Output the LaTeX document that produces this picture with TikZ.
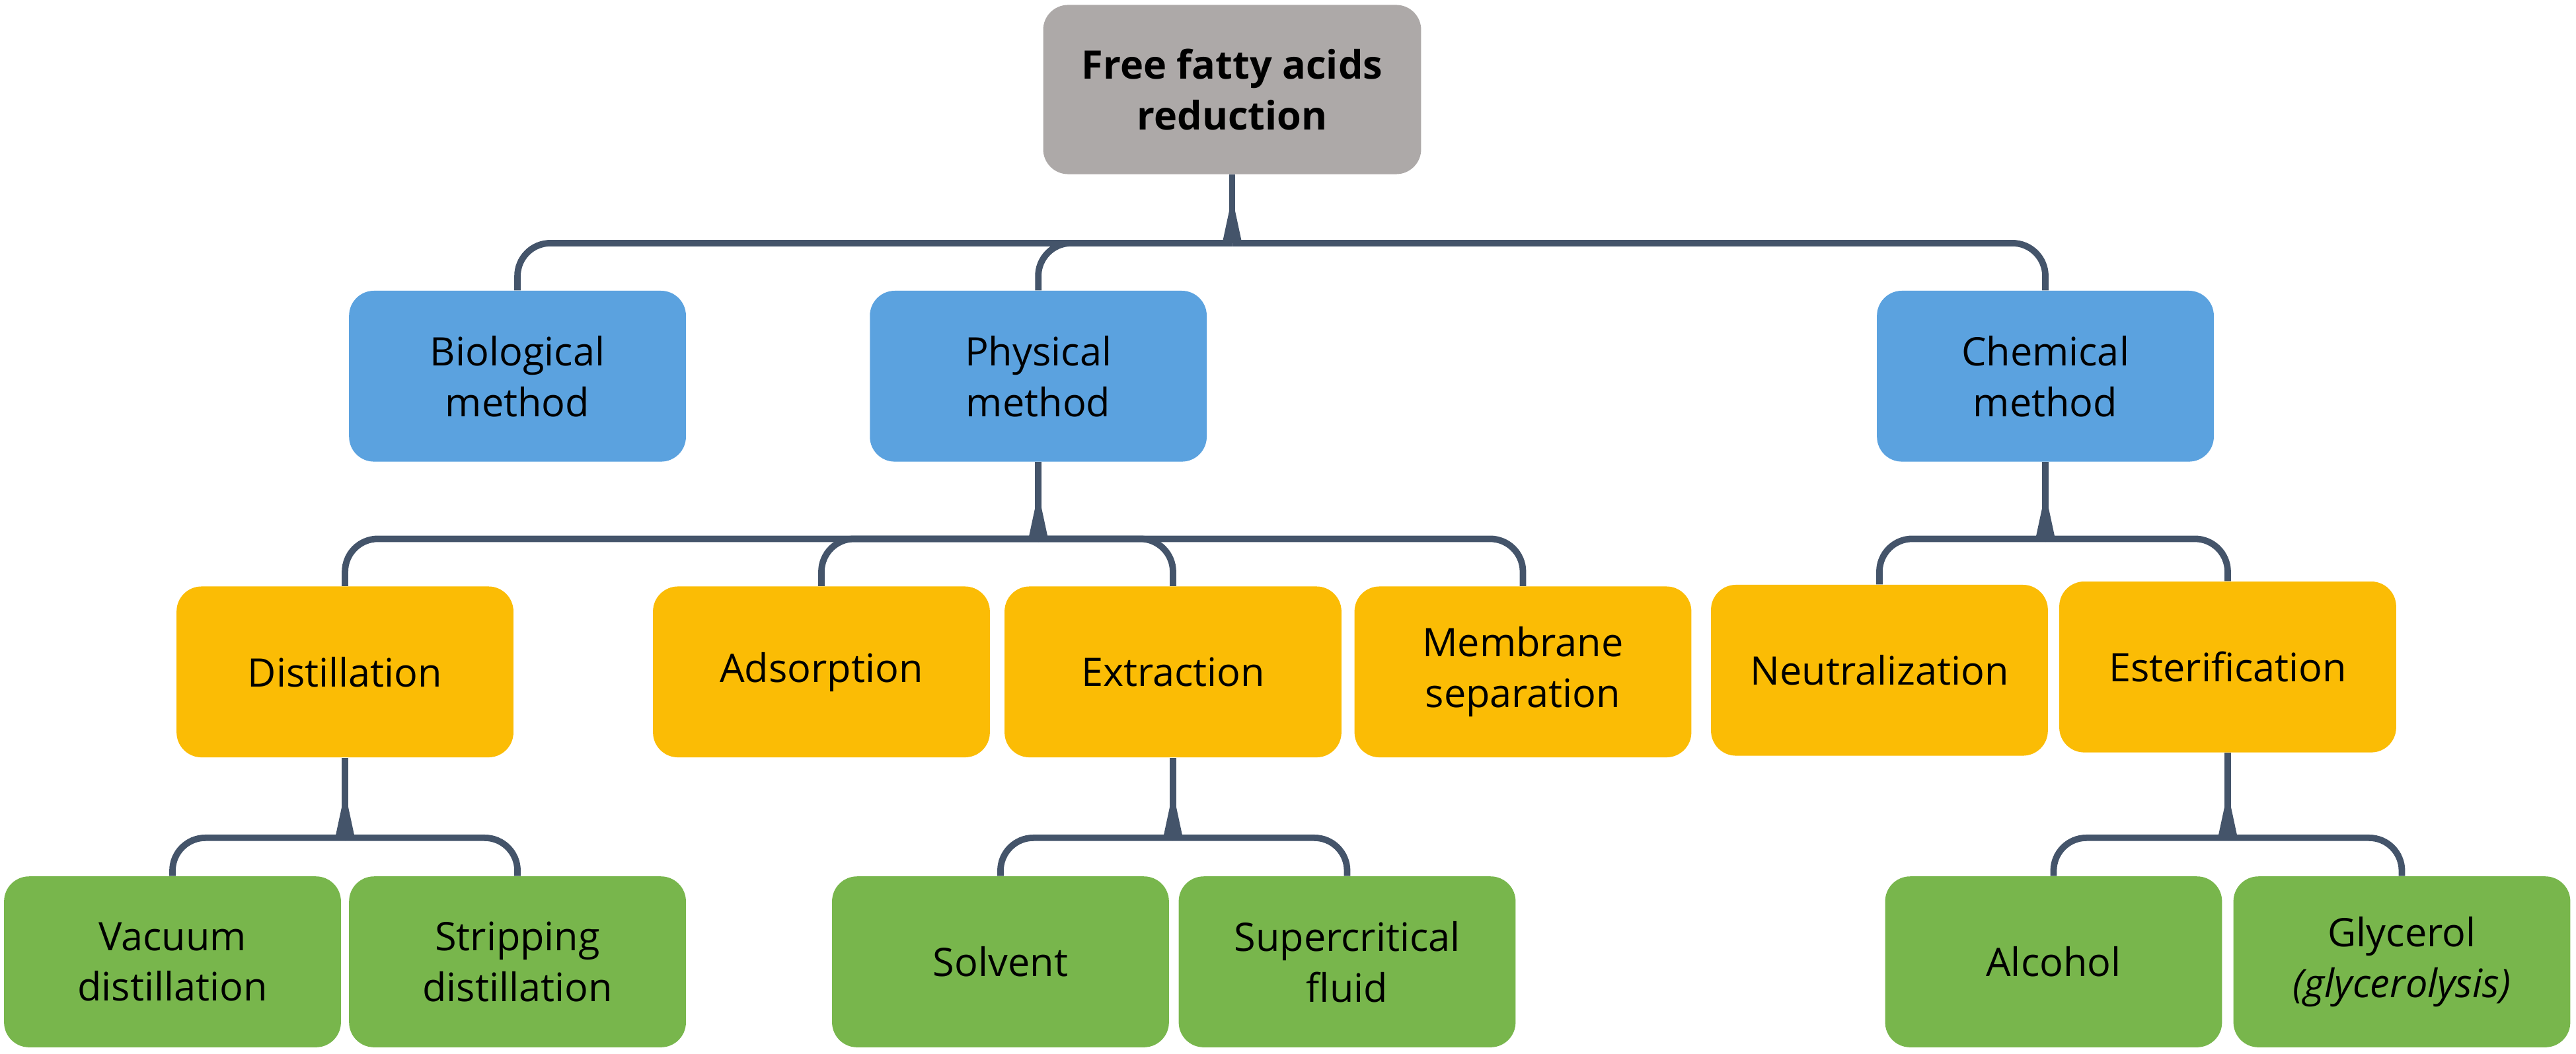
\documentclass[tikz,border=0pt]{standalone}
\usepackage{fontspec}
\setmainfont{Open Sans}
\begin{document}
\begin{tikzpicture}[x=0.025cm,y=-0.025cm,
  box/.style={rounded corners=0.38cm, align=center, inner sep=0pt, minimum width=5.125cm, minimum height=2.6cm, font=\fontsize{17}{22}\selectfont, text=black},
  root/.style={box, fill=rootc, minimum width=5.75cm, minimum height=2.575cm, font=\fontsize{17}{22}\selectfont\bfseries},
  blue/.style={box, fill=bluec},
  yel/.style={box, fill=yelc},
  grn/.style={box, fill=grnc},
  conn/.style={draw=linec, line width=2.8pt, rounded corners=0.5cm},
  stem/.style={draw=linec, line width=2.8pt}]
\definecolor{rootc}{HTML}{ADA9A8}
\definecolor{bluec}{HTML}{5BA2DF}
\definecolor{yelc}{HTML}{FBBC05}
\definecolor{grnc}{HTML}{78B64C}
\definecolor{linec}{HTML}{44546A}
\useasboundingbox (0,0) rectangle (1568,641.6);
\tikzset{tri/.pic={\fill[linec] (-6,0) -- (6,0) -- (0,-28) -- cycle;}}

\node[root] (r) at (750,54.5) {Free fatty acids\\reduction};
\node[blue] (bio) at (315,229) {Biological\\method};
\node[blue] (phy) at (632,229) {Physical\\method};
\node[blue] (che) at (1245,229) {Chemical\\method};
\node[yel] (dis) at (210,409) {Distillation};
\node[yel] (ads) at (500,409) {Adsorption};
\node[yel] (ext) at (714,409) {Extraction};
\node[yel] (mem) at (927,409) {Membrane\\separation};
\node[yel] (neu) at (1144,408) {Neutralization};
\node[yel] (est) at (1356,406) {Esterification};
\node[grn] (vac) at (105,585.5) {Vacuum\\distillation};
\node[grn] (str) at (315,585.5) {Stripping\\distillation};
\node[grn] (sol) at (609,585.5) {Solvent};
\node[grn] (sup) at (820,585.5) {Supercritical\\fluid};
\node[grn] (alc) at (1250,585.5) {Alcohol};
\node[grn] (gly) at (1462,585.5) {Glycerol\\\textit{(glycerolysis)}};

\coordinate (j1) at (750,148);
\coordinate (j2) at (632,328);
\coordinate (j3) at (1245,328);
\coordinate (j4) at (210,510);
\coordinate (j5) at (714,510);
\coordinate (j6) at (1356,510);

\draw[stem] (r.south -| j1) -- (j1); \pic at (j1) {tri};
\draw[conn] (j1) -| (bio.north); \draw[conn] (j1) -| (phy.north); \draw[conn] (j1) -| (che.north);
\draw[stem] (phy.south) -- (j2); \pic at (j2) {tri};
\draw[conn] (j2) -| (dis.north); \draw[conn] (j2) -| (ads.north); \draw[conn] (j2) -| (ext.north); \draw[conn] (j2) -| (mem.north);
\draw[stem] (che.south) -- (j3); \pic at (j3) {tri};
\draw[conn] (j3) -| (neu.north); \draw[conn] (j3) -| (est.north);
\draw[stem] (dis.south) -- (j4); \pic at (j4) {tri};
\draw[conn] (j4) -| (vac.north); \draw[conn] (j4) -| (str.north);
\draw[stem] (ext.south) -- (j5); \pic at (j5) {tri};
\draw[conn] (j5) -| (sol.north); \draw[conn] (j5) -| (sup.north);
\draw[stem] (est.south) -- (j6); \pic at (j6) {tri};
\draw[conn] (j6) -| (alc.north); \draw[conn] (j6) -| (gly.north);
\end{tikzpicture}
\end{document}
